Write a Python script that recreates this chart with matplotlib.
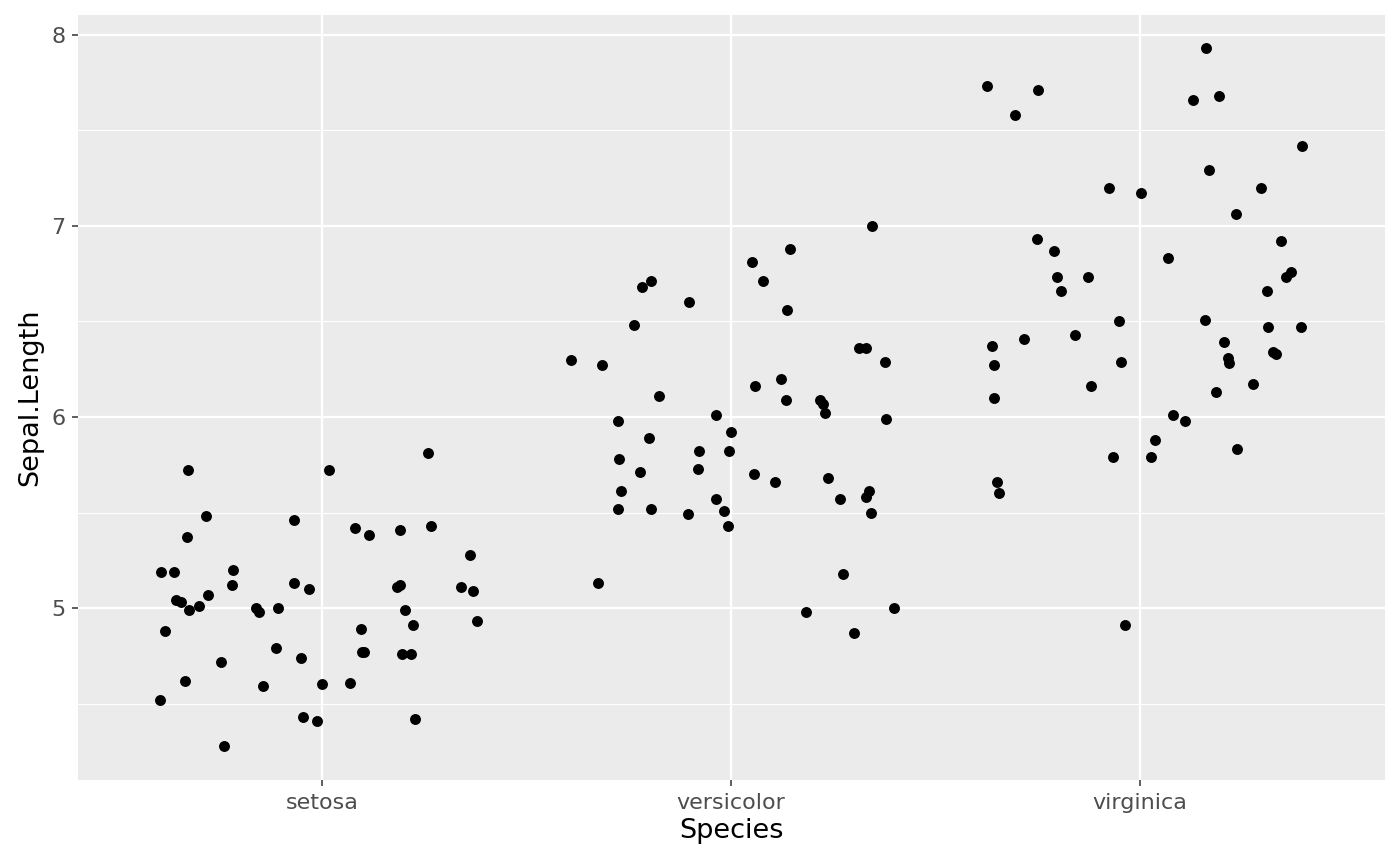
import numpy as np
import matplotlib
matplotlib.use("Agg")
import matplotlib.pyplot as plt

# ---------- data (jittered x offsets, Sepal.Length) ----------
SPECIES = ["setosa", "versicolor", "virginica"]

setosa_dx = [-0.396, -0.384, -0.394, -0.362, -0.357, -0.345, -0.335, -0.330, -0.328, -0.325,
             -0.301, -0.284, -0.279, -0.247, -0.240, -0.220, -0.218, -0.161, -0.154, -0.144,
             -0.112, -0.108, -0.068, -0.068, -0.051, -0.046, -0.032, -0.012, 0.000, 0.017,
             0.068, 0.081, 0.095, 0.098, 0.103, 0.115, 0.183, 0.191, 0.191, 0.196,
             0.203, 0.218, 0.222, 0.227, 0.259, 0.267, 0.340, 0.362, 0.369, 0.379]
setosa_y = [4.52, 4.88, 5.19, 5.19, 5.04, 5.03, 4.62, 5.37, 5.72, 4.99,
            5.01, 5.48, 5.07, 4.72, 4.28, 5.12, 5.20, 5.00, 4.98, 4.59,
            4.79, 5.00, 5.46, 5.13, 4.74, 4.43, 5.10, 4.41, 4.60, 5.72,
            4.61, 5.42, 4.89, 4.77, 4.77, 5.38, 5.11, 5.41, 5.12, 4.76,
            4.99, 4.76, 4.91, 4.42, 5.81, 5.43, 5.11, 5.28, 5.09, 4.93]

versicolor_dx = [-0.391, -0.325, -0.315, -0.276, -0.276, -0.274, -0.269, -0.237, -0.222, -0.218,
                 -0.200, -0.196, -0.196, -0.176, -0.105, -0.103, -0.081, -0.078, -0.037, -0.037,
                 -0.017, -0.007, -0.005, 0.000, 0.051, 0.056, 0.059, 0.078, 0.108, 0.122,
                 0.134, 0.137, 0.144, 0.183, 0.218, 0.225, 0.230, 0.237, 0.267, 0.274,
                 0.301, 0.313, 0.330, 0.330, 0.337, 0.342, 0.345, 0.377, 0.379, 0.399]
versicolor_y = [6.30, 5.13, 6.27, 5.98, 5.52, 5.78, 5.61, 6.48, 5.71, 6.68,
                5.89, 6.71, 5.52, 6.11, 5.49, 6.60, 5.73, 5.82, 6.01, 5.57,
                5.51, 5.43, 5.82, 5.92, 6.81, 5.70, 6.16, 6.71, 5.66, 6.20,
                6.09, 6.56, 6.88, 4.98, 6.09, 6.07, 6.02, 5.68, 5.57, 5.18,
                4.87, 6.36, 6.36, 5.58, 5.61, 5.50, 7.00, 6.29, 5.99, 5.00]

virginica_dx = [-0.374, -0.362, -0.357, -0.357, -0.350, -0.345, -0.306, -0.284, -0.252, -0.249,
                -0.210, -0.203, -0.193, -0.159, -0.127, -0.120, -0.076, -0.066, -0.051, -0.046,
                -0.037, 0.002, 0.027, 0.037, 0.068, 0.081, 0.110, 0.130, 0.159, 0.161,
                0.169, 0.186, 0.193, 0.205, 0.215, 0.218, 0.235, 0.237, 0.276, 0.296,
                0.311, 0.313, 0.325, 0.333, 0.345, 0.357, 0.369, 0.394, 0.396]
virginica_y = [7.73, 6.37, 6.27, 6.10, 5.66, 5.60, 7.58, 6.41, 6.93, 7.71,
               6.87, 6.73, 6.66, 6.43, 6.73, 6.16, 7.20, 5.79, 6.50, 6.29,
               4.91, 7.17, 5.79, 5.88, 6.83, 6.01, 5.98, 7.66, 6.51, 7.93,
               7.29, 6.13, 7.68, 6.39, 6.31, 6.28, 7.06, 5.83, 6.17, 7.20,
               6.66, 6.47, 6.34, 6.33, 6.92, 6.73, 6.76, 6.47, 7.42]

Y_TICKS = [5, 6, 7, 8]
Y_MINOR = [4.5, 5.5, 6.5, 7.5]

# ---------- plot ----------
fig = plt.figure(figsize=(14, 8.65), dpi=100)
ax = fig.add_axes([0.0557, 0.098, 0.9333, 0.885])
ax.set_facecolor("#EBEBEB")

for i, (dx, y) in enumerate([(setosa_dx, setosa_y),
                             (versicolor_dx, versicolor_y),
                             (virginica_dx, virginica_y)]):
    ax.scatter(i + 1 + np.asarray(dx), y, s=62, color="black", lw=0, zorder=3)

ax.set_xlim(0.403, 3.599)
ax.set_ylim(4.099, 8.105)
ax.set_xticks([1, 2, 3], SPECIES)
ax.set_yticks(Y_TICKS)
ax.set_yticks(Y_MINOR, minor=True)
ax.grid(True, which="major", color="white", lw=1.6, zorder=1)
ax.grid(True, which="minor", axis="y", color="white", lw=0.8, zorder=1)
ax.set_axisbelow(True)
for s in ax.spines.values():
    s.set_visible(False)
ax.tick_params(which="major", length=4, color="#333333", labelsize=16,
               labelcolor="#4D4D4D", width=1.1, pad=5)
ax.tick_params(which="minor", length=0)
ax.set_xlabel("Species", fontsize=19.5, labelpad=4)
ax.set_ylabel("Sepal.Length", fontsize=19.5, labelpad=6)

fig.savefig("out.png", dpi=100)
